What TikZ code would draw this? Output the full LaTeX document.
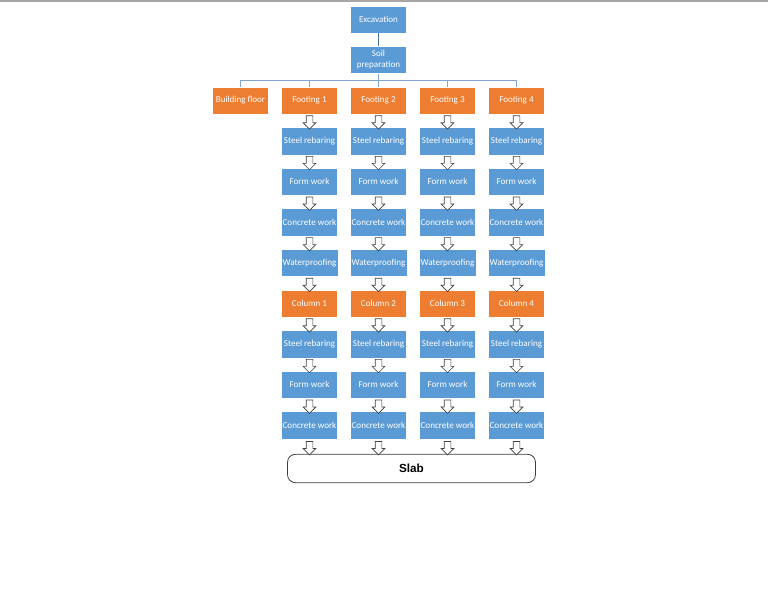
\documentclass[tikz,border=0pt]{standalone}
\usepackage{fontspec}
\setmainfont{Carlito}
\newfontfamily\slabfont{Liberation Sans}
\usepackage{tikz}
\usetikzlibrary{shapes,arrows}

\definecolor{boxblue}{HTML}{5B9BD5}
\definecolor{boxorange}{HTML}{ED7D31}
\definecolor{linkblue}{HTML}{41719C}
\definecolor{busblue}{HTML}{7EA6D6}

\begin{document}
\begin{tikzpicture}[x=0.75pt,y=-0.75pt]
\tikzstyle{box}=[rectangle,fill=boxblue,draw=white,line width=0.3pt,text=white,font=\fontsize{6.8}{8.2}\selectfont,minimum width=42pt,minimum height=20.5pt,inner sep=1pt,align=center];
\tikzstyle{obox}=[box,fill=boxorange];
\tikzstyle{down}=[single arrow,draw=black!75,fill=white,line width=0.5pt,shape border rotate=270,minimum width=9pt,minimum height=10pt,single arrow head extend=2.25pt,inner sep=2.25pt];
\tikzstyle{bus}=[busblue,line width=0.7pt];

\useasboundingbox (0,0) rectangle (768,613);
\fill[gray!70] (0,0) rectangle (768,2.5);

\node[box] (exc) at (378.5,19.5) {Excavation};
\node[box] (soil) at (378.5,60) {Soil\\preparation};
\draw[linkblue,line width=1.4pt] (exc) -- (soil);
\coordinate (bus) at (378.5,80.7);
\draw[bus] (soil) -- (bus);

\node[obox] (floor) at (240.5,100.5) {Building floor};
\draw[bus] (floor.north) |- (bus);

\node[draw=black!75,fill=white,line width=0.6pt,rounded corners=6pt,minimum width=186pt,minimum height=21.3pt,font=\slabfont\bfseries\fontsize{8.8}{10}\selectfont] (slab) at (411.5,468.5) {Slab};

\foreach \i/\x in {1/309.5,2/378.5,3/447.5,4/516.5} {
  \node[obox] (f\i) at (\x,100.5) {Footing \i};
  \node[box] (fs\i) at (\x,141.1) {Steel rebaring};
  \node[box] (ff\i) at (\x,181.7) {Form work};
  \node[box] (fc\i) at (\x,222.3) {Concrete work};
  \node[box] (fw\i) at (\x,262.9) {Waterproofing};
  \node[obox] (c\i) at (\x,303.5) {Column \i};
  \node[box] (cs\i) at (\x,344.1) {Steel rebaring};
  \node[box] (cf\i) at (\x,384.7) {Form work};
  \node[box] (cc\i) at (\x,425.3) {Concrete work};
  \draw[bus] (f\i.north) |- (bus);
  \foreach \a/\b in {f/fs,fs/ff,ff/fc,fc/fw,fw/c,c/cs,cs/cf,cf/cc}
    \path (\a\i) -- node[down] {} (\b\i);
  \path (cc\i.south) -- node[down] {} (cc\i.south |- slab.north);
}
\end{tikzpicture}
\end{document}
